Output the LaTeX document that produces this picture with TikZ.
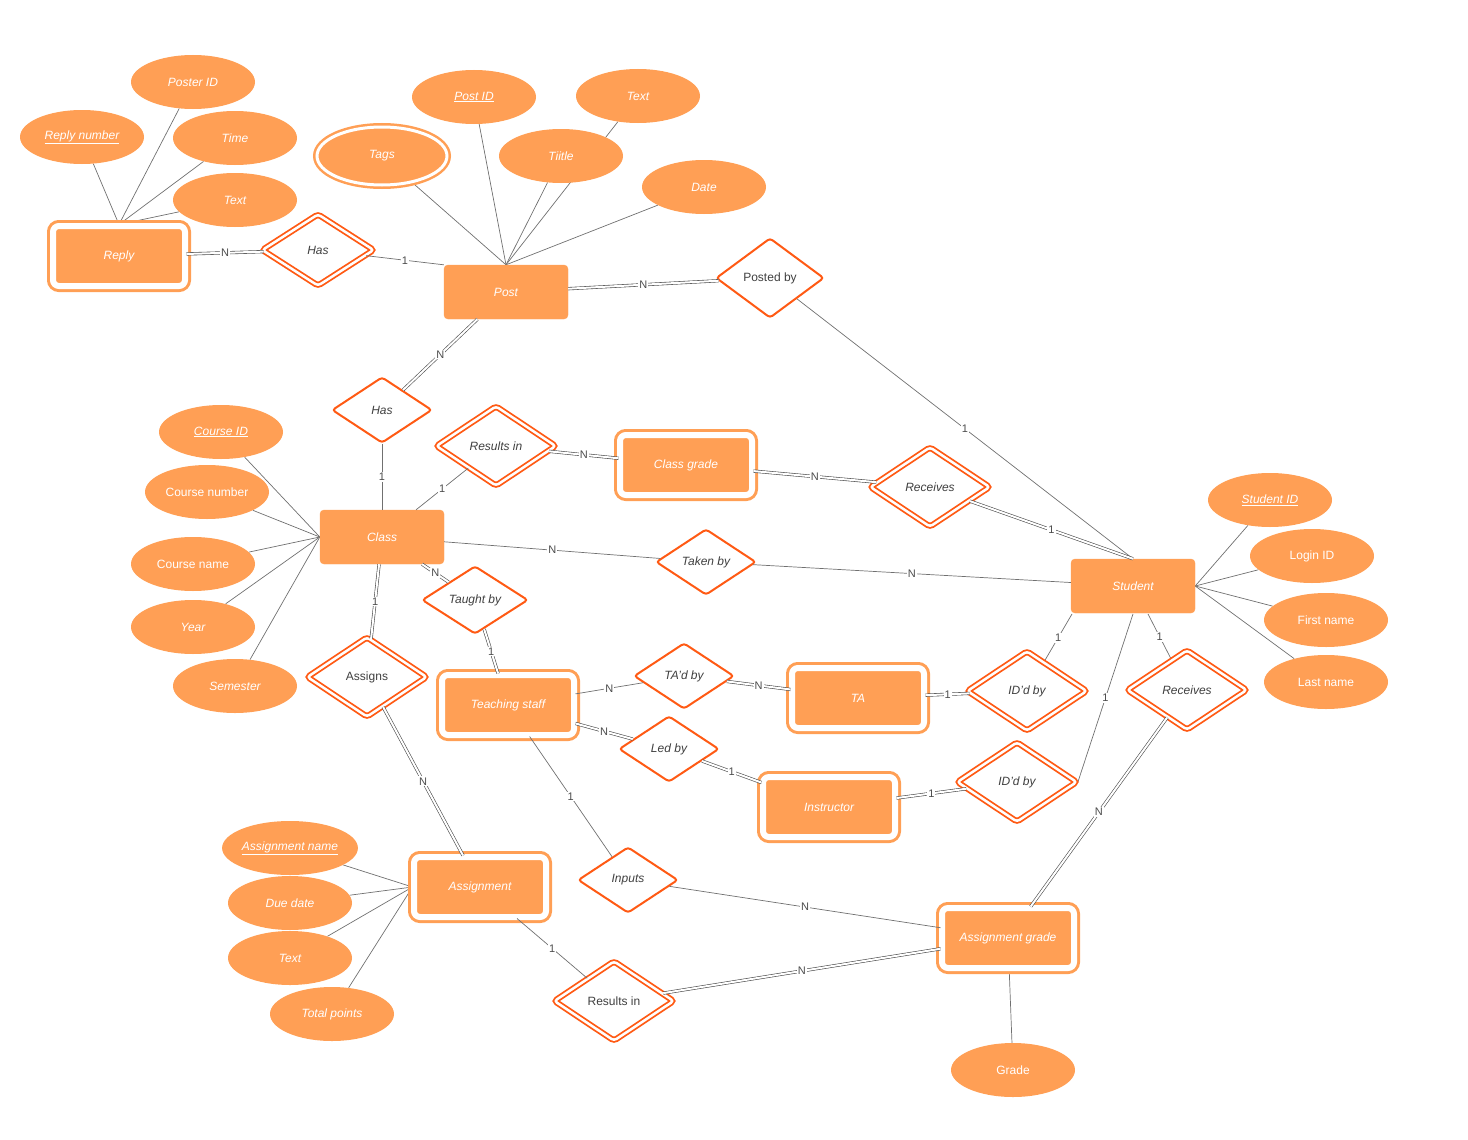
\documentclass[tikz,border=0pt]{standalone}
\usepackage{fontspec}
\setmainfont{Liberation Sans}
\usetikzlibrary{shapes.geometric}
\definecolor{ofill}{HTML}{FF9F55}
\definecolor{oline}{HTML}{FF5A14}
\definecolor{gline}{HTML}{707070}
\tikzset{
 ent/.style={rectangle, rounded corners=4pt, fill=ofill, draw=ofill, minimum width=124pt, minimum height=54pt, text=white, font=\itshape\fontsize{12}{14}\selectfont},
 went/.style={ent, minimum width=132pt, minimum height=60pt, line width=3pt, double=white, double distance=6pt, rounded corners=6pt},
 att/.style={ellipse, fill=ofill, minimum width=124pt, minimum height=54pt, text=white, font=\itshape\fontsize{12}{14}\selectfont, inner sep=0pt},
 attu/.style={att, font=\fontsize{12}{14}\selectfont},
 rel/.style={diamond, aspect=1.5, fill=white, draw=oline, line width=2pt, minimum width=100pt, minimum height=66pt, inner sep=0pt, rounded corners=3pt, text=black!75, font=\itshape\fontsize{12}{14}\selectfont},
 wrel/.style={rel, minimum width=112pt, minimum height=72pt, double=white, double distance=2.5pt, line width=1.8pt},
 ln/.style={draw=gline, line width=0.7pt},
 dl/.style={draw=black!70, line width=0.6pt, double=white, double distance=2pt},
 lab/.style={fill=white, inner sep=1pt, font=\fontsize{11}{12}\selectfont, text=black!70},
}
\pgfdeclarelayer{bg}
\pgfsetlayers{bg,main}
\begin{document}
\begin{tikzpicture}[x=1pt,y=-1pt]
\useasboundingbox (0,0) rectangle (1468,1140);
% attributes
\node[att] (posterid) at (193,82) {Poster ID};
\node[att] (replyno) at (82,137) {\underline{Reply number}};
\node[att] (rtime) at (235,138) {Time};
\node[att] (rtext) at (235,200) {Text};
\node[att] (postid) at (474,97) {\underline{Post ID}};
\node[att] (ptext) at (638,96) {Text};
\node[att, draw=ofill, line width=2.5pt, double=white, double distance=3pt, minimum width=130pt, minimum height=58pt] (tags) at (382,156) {Tags};
\node[att] (title) at (561,156) {Tiitle};
\node[att] (date) at (704,187) {Date};
\node[att] (courseid) at (221,432) {\underline{Course ID}};
\node[attu] (coursenum) at (207,492) {Course number};
\node[attu] (coursename) at (193,564) {Course name};
\node[att] (year) at (193,627) {Year};
\node[att] (semester) at (235,686) {Semester};
\node[att] (studentid) at (1270,500) {\underline{Student ID}};
\node[attu] (loginid) at (1312,556) {Login ID};
\node[attu] (firstname) at (1326,620) {First name};
\node[attu] (lastname) at (1326,682) {Last name};
\node[att] (aname) at (290,848) {\underline{Assignment name}};
\node[att] (duedate) at (290,903) {Due date};
\node[att] (atext) at (290,958) {Text};
\node[att] (total) at (332,1014) {Total points};
\node[attu] (grade) at (1013,1070) {Grade};
% entities
\node[went] (reply) at (119,256) {Reply};
\node[ent] (post) at (506,292) {Post};
\node[ent] (class) at (382,537) {Class};
\node[went] (classgrade) at (686,465) {Class grade};
\node[ent] (student) at (1133,586) {Student};
\node[went] (tstaff) at (508,705) {Teaching staff};
\node[went] (ta) at (858,698) {TA};
\node[went] (instr) at (829,807) {Instructor};
\node[went] (assign) at (480,887) {Assignment};
\node[went] (agrade) at (1008,938) {Assignment grade};
% relationships
\node[wrel] (has1) at (318,250) {Has};
\node[rel, font=\fontsize{12}{14}\selectfont, minimum width=108pt, minimum height=80pt] (postedby) at (770,278) {Posted by};
\node[rel] (has2) at (382,410) {Has};
\node[wrel, minimum width=120pt, minimum height=80pt] (resin1) at (496,446) {Results in};
\node[wrel, minimum width=120pt, minimum height=80pt] (rec1) at (930,487) {Receives};
\node[rel] (takenby) at (706,562) {Taken by};
\node[rel, minimum width=106pt, minimum height=68pt] (taughtby) at (475,600) {Taught by};
\node[wrel, font=\fontsize{12}{14}\selectfont, minimum width=120pt, minimum height=80pt] (assigns) at (367,677) {Assigns};
\node[rel] (tadby) at (684,676) {TA'd by};
\node[rel] (ledby) at (669,749) {Led by};
\node[wrel, minimum width=120pt, minimum height=80pt] (idby1) at (1027,691) {ID'd by};
\node[wrel, minimum width=120pt, minimum height=80pt] (idby2) at (1017,782) {ID'd by};
\node[wrel, minimum width=120pt, minimum height=80pt] (rec2) at (1187,690) {Receives};
\node[rel] (inputs) at (628,880) {Inputs};
\node[wrel, font=\fontsize{12}{14}\selectfont, minimum width=120pt, minimum height=80pt] (resin2) at (614,1001) {Results in};
\coordinate (stsw) at (1072,614);
\coordinate (sts) at (1133,614);
\coordinate (stse) at (1148,614);
\begin{pgfonlayer}{bg}
% attribute lines
\foreach \a in {posterid,replyno,rtime,rtext} \draw[ln] (reply.north) -- (\a);
\foreach \a in {tags,postid,title,ptext,date} \draw[ln] (post.north) -- (\a);
\foreach \a in {courseid,coursenum,coursename,year,semester} \draw[ln] (class.west) -- (\a);
\foreach \a in {studentid,loginid,firstname,lastname} \draw[ln] (student.east) -- (\a);
\foreach \a in {aname,duedate,atext,total} \draw[ln] (assign.west) -- (\a);
\draw[ln] (agrade) -- (grade);
\draw[ln] (idby1) -- node[lab]{1} (stsw);
\draw[ln] (idby2.east) -- node[lab]{1} (sts);
\draw[ln] (stse) -- node[lab]{1} (rec2);
\end{pgfonlayer}
% relationship lines
\draw[dl] (reply) -- node[lab]{N} (has1);
\draw[ln] (has1) -- node[lab]{1} (post.north west);
\draw[dl] (post) -- node[lab]{N} (postedby);
\draw[ln] (postedby) -- node[lab]{1} (student.north);
\draw[dl] (post) -- node[lab]{N} (has2);
\draw[ln] (has2) -- node[lab]{1} (class);
\draw[ln] (class) -- node[lab]{1} (resin1);
\draw[dl] (resin1) -- node[lab]{N} (classgrade);
\draw[dl] (classgrade) -- node[lab]{N} (rec1);
\draw[dl] (rec1) -- node[lab]{1} (student.north);
\draw[ln] (class) -- node[lab]{N} (takenby);
\draw[ln] (takenby) -- node[lab]{N} (student);
\draw[dl] (class) -- node[lab]{N} (taughtby);
\draw[dl] (taughtby) -- node[lab]{1} (tstaff);
\draw[dl] (class) -- node[lab]{1} (assigns);
\draw[dl] (assigns) -- node[lab]{N} (assign);
\draw[ln] (tstaff) -- node[lab]{N} (tadby);
\draw[dl] (tadby) -- node[lab]{N} (ta);
\draw[dl] (tstaff) -- node[lab]{N} (ledby);
\draw[dl] (ledby) -- node[lab]{1} (instr);
\draw[dl] (ta) -- node[lab]{1} (idby1);
\draw[dl] (instr) -- node[lab]{1} (idby2);
\draw[dl] (rec2) -- node[lab]{N} (agrade);
\draw[ln] (tstaff) -- node[lab]{1} (inputs);
\draw[ln] (inputs) -- node[lab]{N} (agrade);
\draw[ln] (assign) -- node[lab]{1} (resin2);
\draw[dl] (resin2) -- node[lab]{N} (agrade);
\end{tikzpicture}
\end{document}
